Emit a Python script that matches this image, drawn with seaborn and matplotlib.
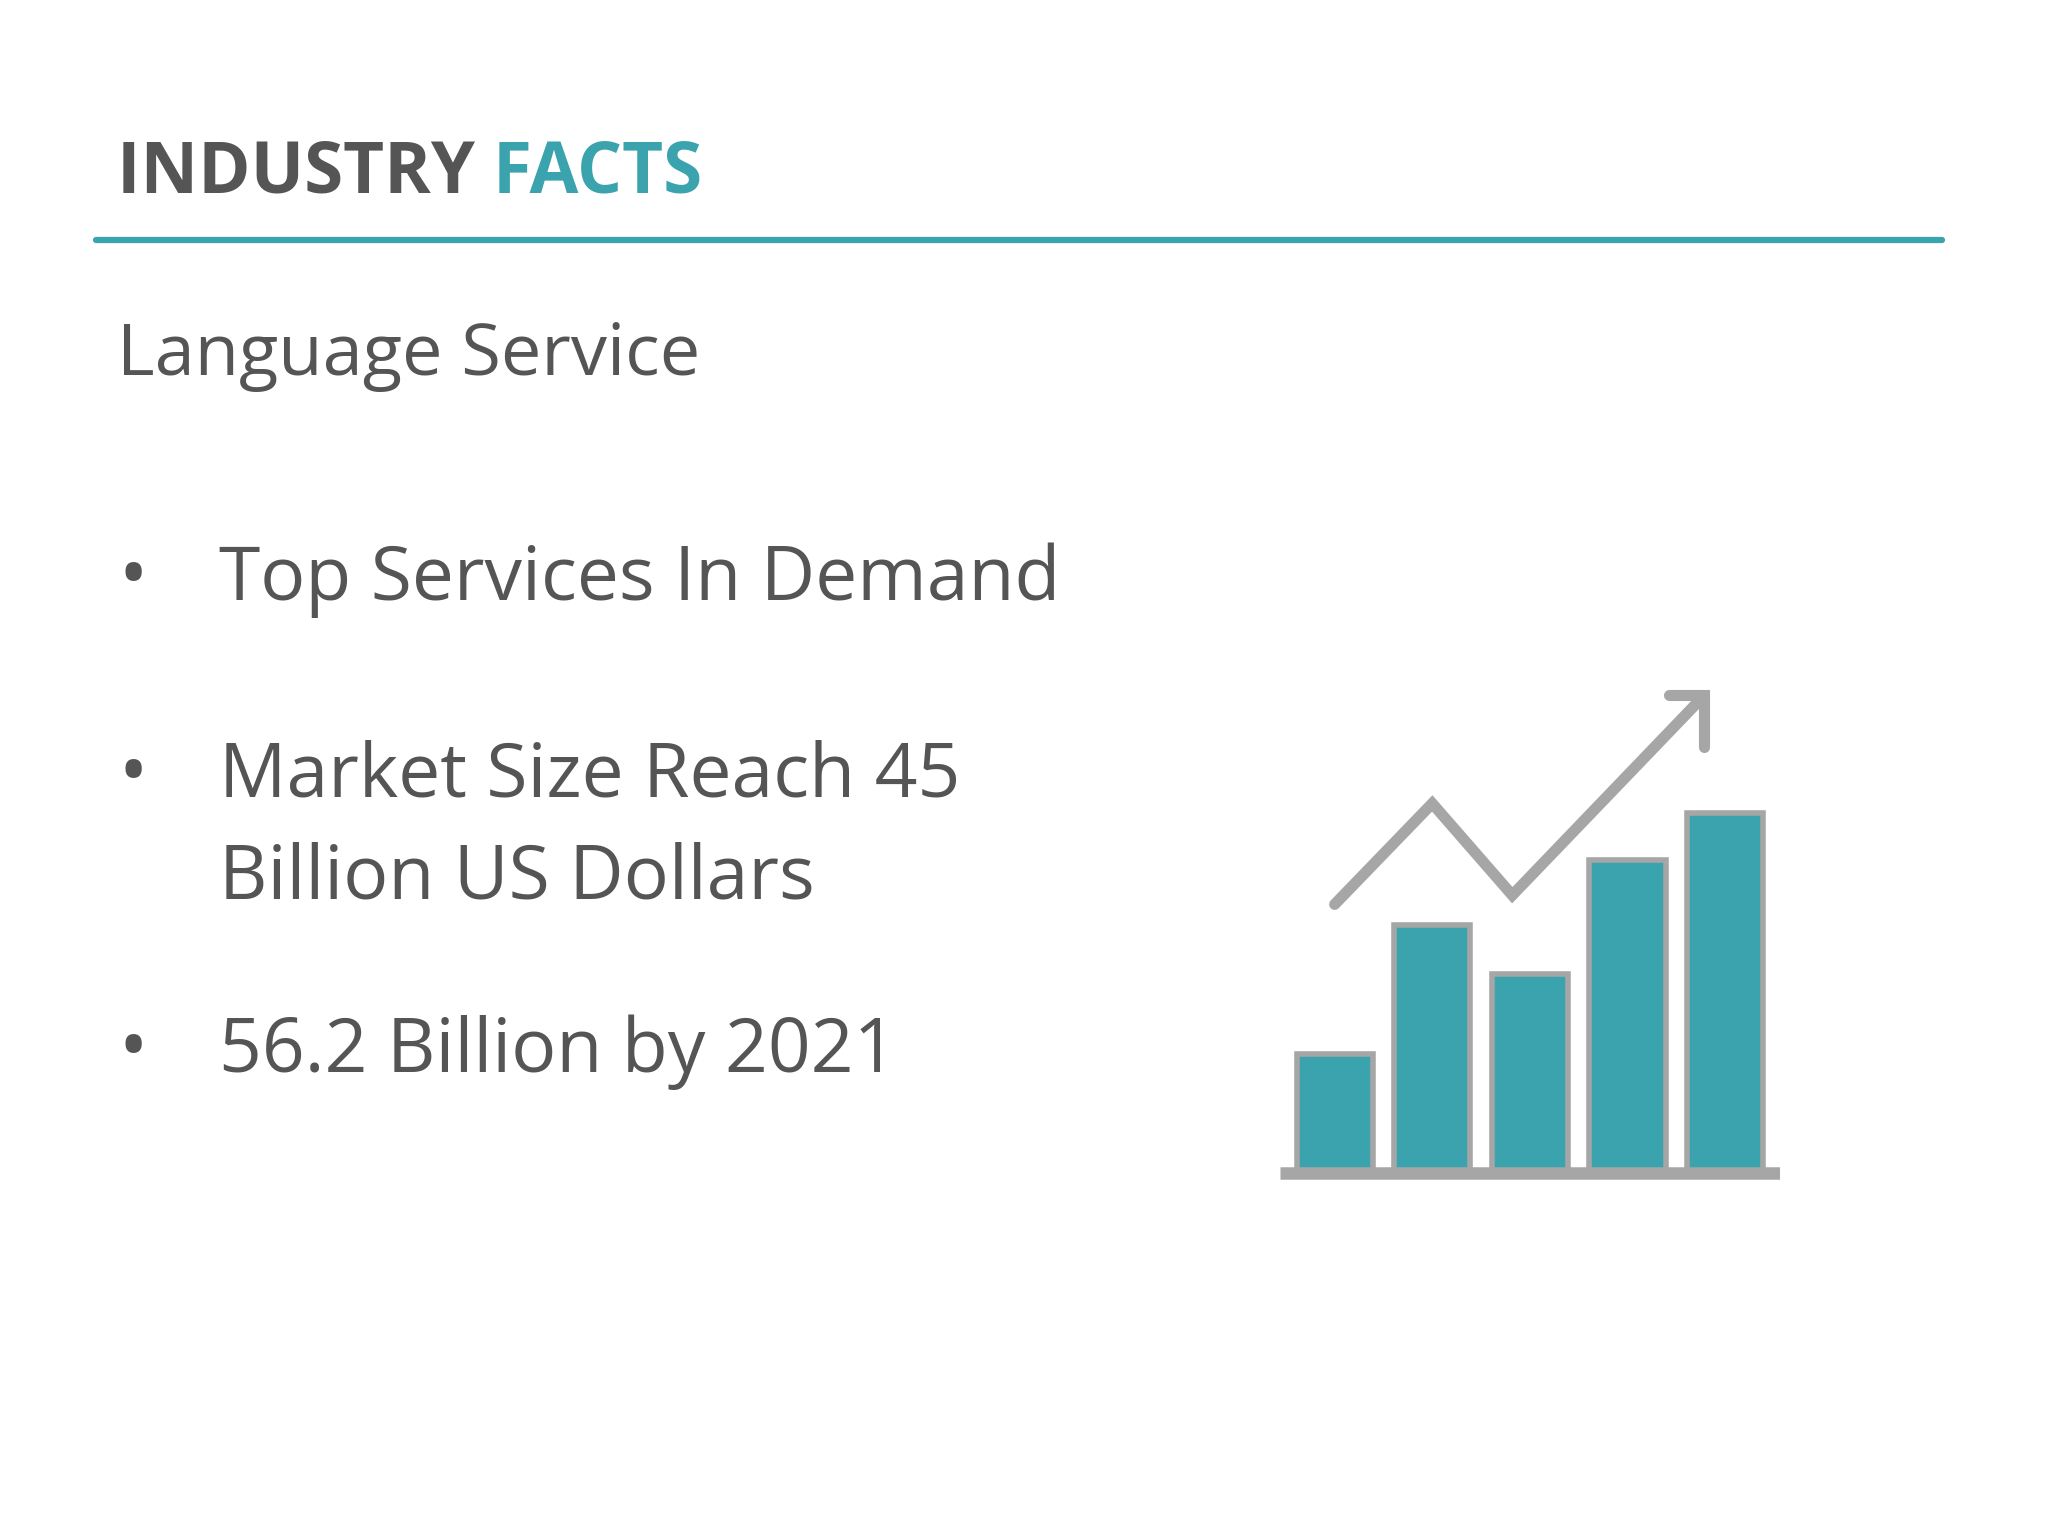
import matplotlib
matplotlib.use("Agg")
import matplotlib.pyplot as plt
import seaborn as sns
import pandas as pd

sns.set_theme(style="white")
plt.rcParams['font.family'] = ['Open Sans', 'DejaVu Sans']

TEAL = "#3BA3AE"
DARK = "#555555"
GRAY = "#A6A6A6"

title_left = "INDUSTRY "
title_right = "FACTS"
subtitle = "Language Service"
bullets = ["Top Services In Demand", "Market Size Reach 45", "56.2 Billion by 2021"]
continuation = "Billion US Dollars"

bar_cats = ["a", "b", "c", "d", "e"]
bar_vals = [91, 189, 152, 239, 275]
trend_x = [0, 1, 1.82, 3.73]
trend_y = [205, 282, 212, 360]

fig = plt.figure(figsize=(20.48, 15.36), dpi=100)
fig.patch.set_facecolor("white")

t1 = fig.text(0.057, 0.887, title_left, fontsize=51, fontweight="bold", color=DARK, va="center")
fig.canvas.draw()
bb = t1.get_window_extent()
x2 = bb.x1 / fig.bbox.width
fig.text(x2, 0.887, title_right, fontsize=51, fontweight="bold", color=TEAL, va="center")
fig.add_artist(plt.Line2D([0.047, 0.948], [0.844, 0.844], color=TEAL, lw=4.5))

fig.text(0.057, 0.768, subtitle, fontsize=52, color=DARK, va="center")
ys = [0.622, 0.494, 0.315]
for y, b in zip(ys, bullets):
    fig.text(0.058, y, "•", fontsize=56, color=DARK, va="center")
    fig.text(0.107, y, b, fontsize=54, color=DARK, va="center")
fig.text(0.107, 0.428, continuation, fontsize=54, color=DARK, va="center")

ax = fig.add_axes([0.625, 0.232, 0.244, 0.326])
df = pd.DataFrame({"cat": bar_cats, "val": bar_vals})
sns.barplot(data=df, x="cat", y="val", color=TEAL, saturation=1, width=0.78,
            edgecolor=GRAY, linewidth=4, ax=ax)
ax.axhline(0, color=GRAY, lw=9, solid_capstyle="butt")
ax.plot(trend_x, trend_y, color=GRAY, lw=8, solid_joinstyle="miter")
ax.plot([3.43, 3.78, 3.78], [365, 365, 325], color=GRAY, lw=8, solid_joinstyle="miter")
ax.set_xlim(-0.56, 4.56)
ax.set_ylim(-5, 377)
ax.axis("off")

fig.savefig("out.png", dpi=100, facecolor="white")
